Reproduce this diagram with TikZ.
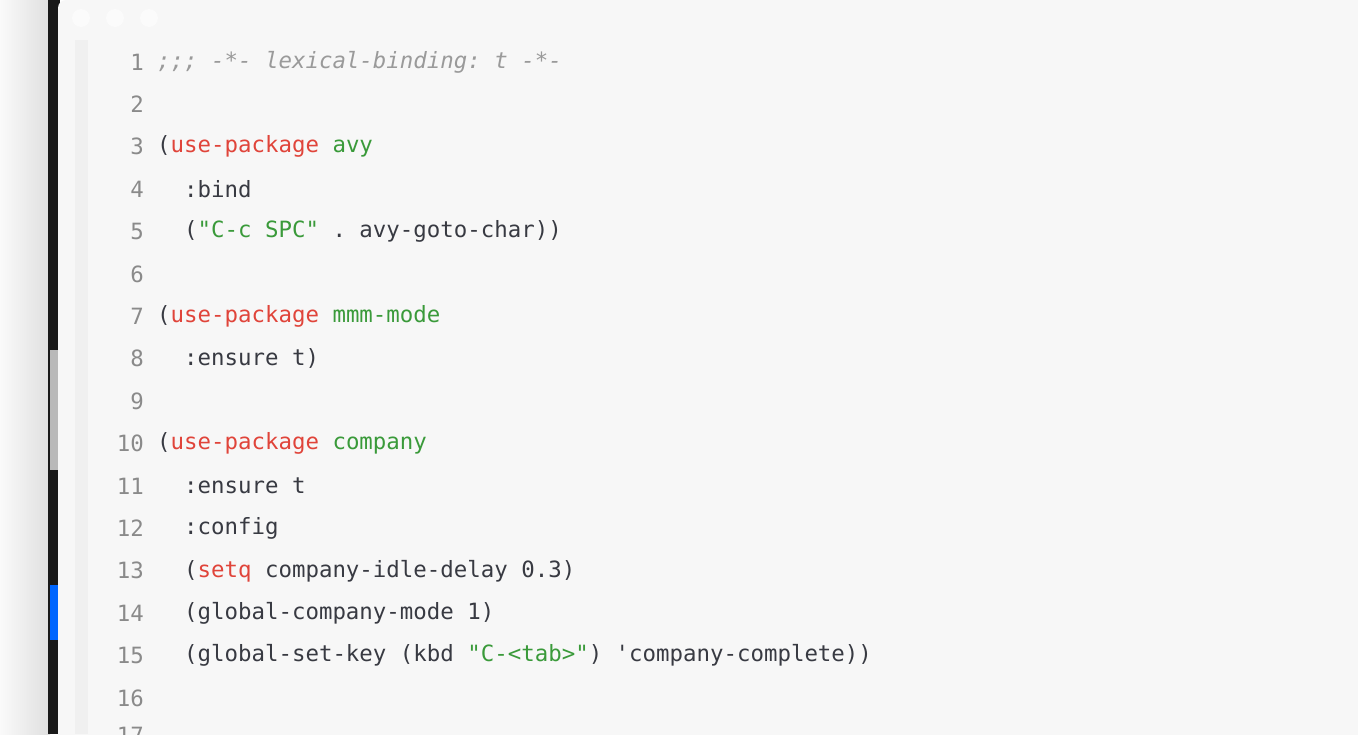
\documentclass[tikz,border=0pt]{standalone}
\usepackage{fontspec}
\setmonofont{DejaVu Sans Mono}
\definecolor{kw}{HTML}{E0443A}
\definecolor{st}{HTML}{3A9A3A}
\definecolor{cm}{HTML}{9A9A9A}
\definecolor{tx}{HTML}{383A42}
\definecolor{ln}{HTML}{8A8A8A}
\begin{document}
\begin{tikzpicture}[x=1pt,y=-1pt,
  code/.style={anchor=west,inner sep=0pt,font=\ttfamily\fontsize{22.4}{22.4}\selectfont,text=tx},
  num/.style={anchor=east,inner sep=0pt,font=\ttfamily\fontsize{22.4}{22.4}\selectfont,text=ln}]
\useasboundingbox (0,0) rectangle (1358,734);
\clip (0,0) rectangle (1358,734);
\fill[left color=gray!4,right color=gray!25] (0,0) rectangle (50,734);
\fill[black!90] (48,0) rectangle (60,734);
\fill[gray!55] (50,350) rectangle (58,470);
\fill[blue!60!cyan] (50,585) rectangle (58,640);
\fill[white!97!black,rounded corners=8pt] (58,0) rectangle (1370,750);
\fill[white!97!black] (58,300) rectangle (1358,734);
\fill[white!94!black] (75,40) rectangle (88,734);
\foreach \cx in {81,115,149} \fill[white!98.5!black] (\cx,18) circle (9);
\foreach \i in {1,...,16} \node[num] (n\i) at (144,{62+42.4*(\i-1)}) {\i};
\node[num,anchor=north east] (n17) at (144,727) {17};
\def\Y#1{{62+42.4*(#1-1)}}
\node[code] (l1) at (157,\Y1) {\textcolor{cm}{\itshape ;;; -*- lexical-binding: t -*-}};
\node[code] (l3) at (157,\Y3) {(\textcolor{kw}{use-package} \textcolor{st}{avy}};
\node[code] (l4) at (157,\Y4) {\ \ :bind};
\node[code] (l5) at (157,\Y5) {\ \ (\textcolor{st}{"C-c SPC"} . avy-goto-char))};
\node[code] (l7) at (157,\Y7) {(\textcolor{kw}{use-package} \textcolor{st}{mmm-mode}};
\node[code] (l8) at (157,\Y8) {\ \ :ensure t)};
\node[code] (l10) at (157,\Y{10}) {(\textcolor{kw}{use-package} \textcolor{st}{company}};
\node[code] (l11) at (157,\Y{11}) {\ \ :ensure t};
\node[code] (l12) at (157,\Y{12}) {\ \ :config};
\node[code] (l13) at (157,\Y{13}) {\ \ (\textcolor{kw}{setq} company-idle-delay 0.3)};
\node[code] (l14) at (157,\Y{14}) {\ \ (global-company-mode 1)};
\node[code] (l15) at (157,\Y{15}) {\ \ (global-set-key (kbd \textcolor{st}{"C-<tab>"}) 'company-complete))};
\end{tikzpicture}
\end{document}
